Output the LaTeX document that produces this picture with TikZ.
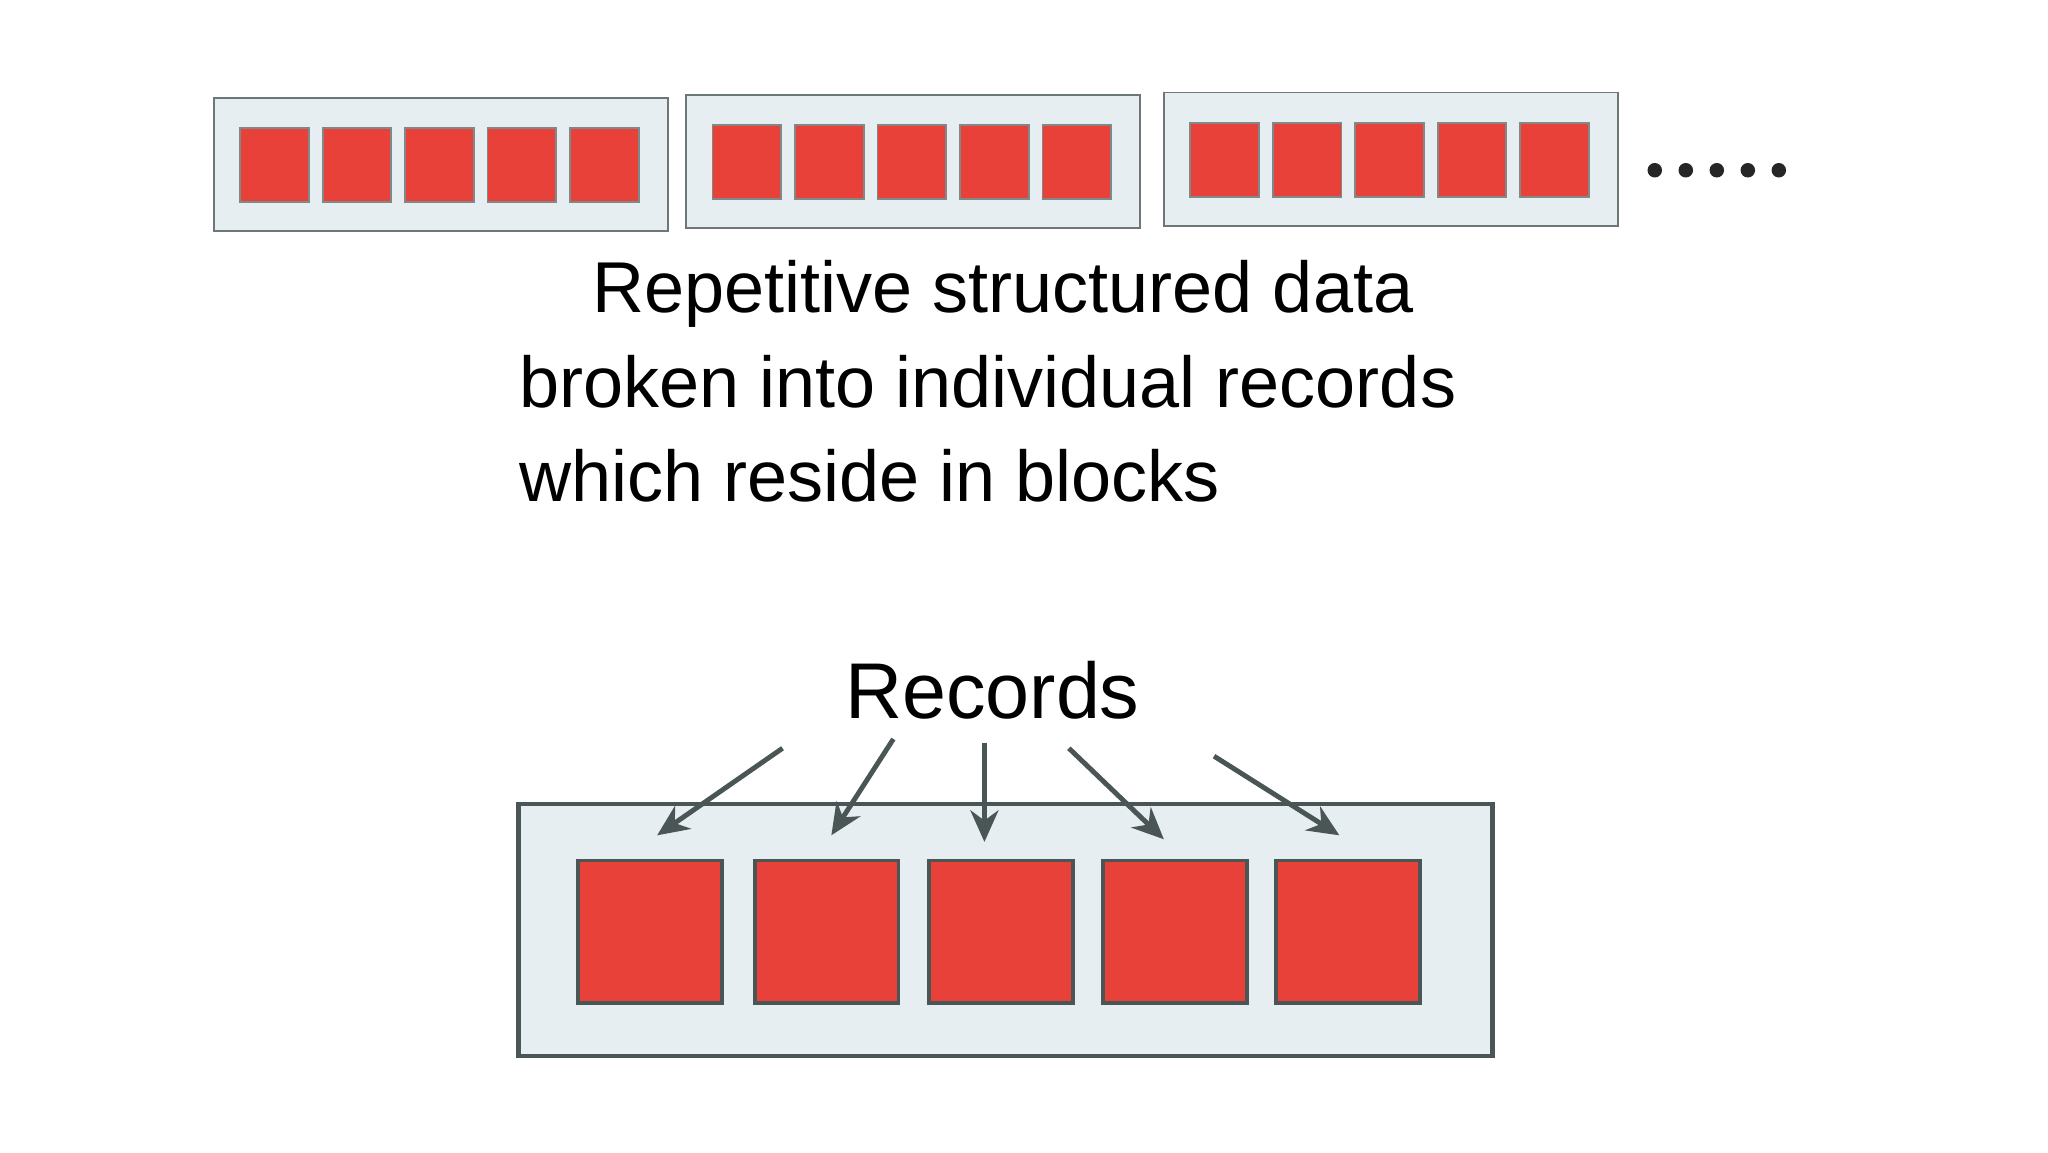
\documentclass[tikz,border=0pt]{standalone}
\usepackage{fontspec}
\setmainfont{Liberation Sans}
\usetikzlibrary{arrows.meta}
\definecolor{blk}{HTML}{E6EEF2}
\definecolor{rec}{HTML}{E8413A}
\definecolor{edge}{HTML}{4A5555}
\begin{document}
\begin{tikzpicture}[x=0.013196cm,y=-0.013196cm,
  block/.style={draw=edge!80,fill=blk,line width=0.5pt},
  bigblock/.style={draw=edge,fill=blk,line width=1.2pt},
  rsq/.style={draw=edge!70,fill=rec,line width=0.5pt},
  brsq/.style={draw=edge,fill=rec,line width=1pt},
  lbl/.style={font=\fontsize{20.5}{24}\selectfont,inner sep=0pt},
  arr/.style={draw=edge,line width=1.4pt,-{Stealth[length=9pt,width=8pt]}}]
\useasboundingbox (0,0) rectangle (1552,873);
% top blocks
\foreach \bx/\by [count=\b] in {162/74,520/72,882/70}{
  \draw[block] (\bx,\by) rectangle ++(344,101);
  \foreach \i in {0,...,4}{
    \draw[rsq] (\bx+20+\i*62.5,\by+23) rectangle ++(52,56);
  }
}
\foreach \i in {0,...,4}
  \fill[black!85] (1254+\i*23.5,129) circle (5.5);
\node[lbl,anchor=base] (t1) at (760,237) {Repetitive structured data};
\node[lbl,anchor=base west] (t2) at (393,309) {broken into individual records};
\node[lbl,anchor=base west] (t3) at (393,380) {which reside in blocks};
% bottom block
\draw[bigblock] (393,609) rectangle (1131,800);
\foreach \x [count=\k] in {438,572,704,836,967}
  \draw[brsq] (\x,652) rectangle ++(109,108) node[pos=0.5,inner sep=0] (r\k) {};
\node[lbl,font=\fontsize{22.5}{26}\selectfont] (rec) at (752,523) {Records};
\coordinate (s1) at (593,567); \coordinate (e1) at (498,633);
\coordinate (s2) at (677,560); \coordinate (e2) at (630,633);
\coordinate (s3) at (746,563); \coordinate (e3) at (746,638);
\coordinate (s4) at (810,567); \coordinate (e4) at (882,636);
\coordinate (s5) at (920,573); \coordinate (e5) at (1015,633);
\foreach \k in {1,...,5} \draw[arr] (s\k) -- (e\k);
\end{tikzpicture}
\end{document}
